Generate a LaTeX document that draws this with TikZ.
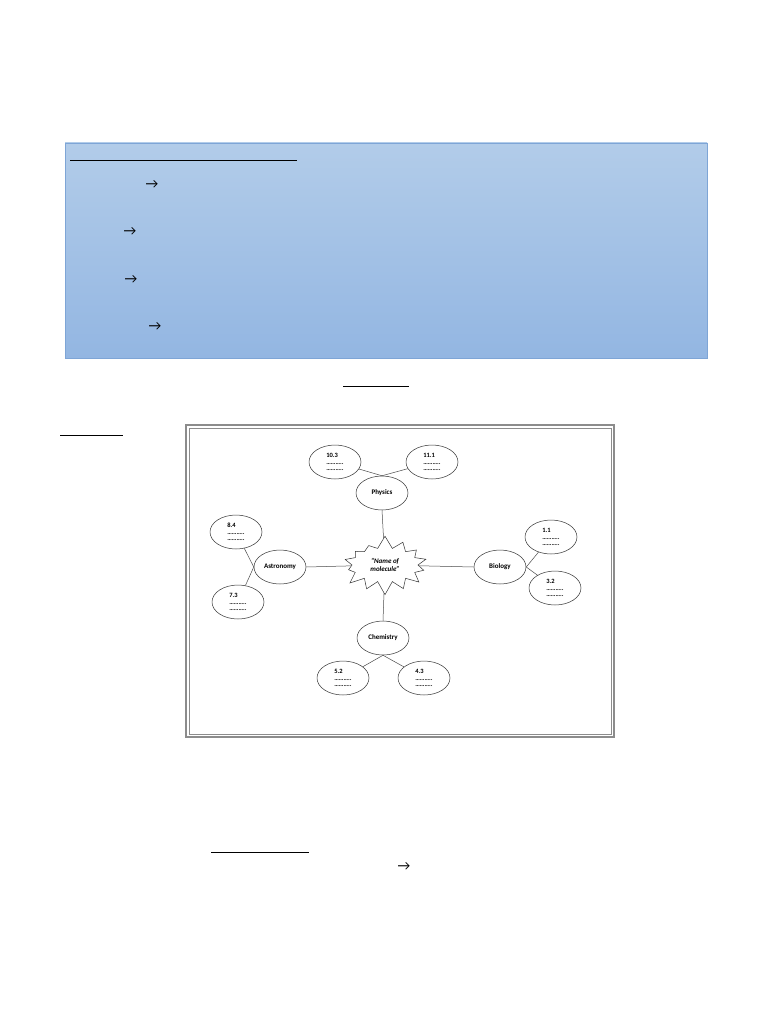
\documentclass[tikz,border=0pt]{standalone}
\usepackage{fontspec}
\setmainfont{Carlito}
\usetikzlibrary{shapes.symbols,shapes.geometric}
\definecolor{boxtop}{HTML}{B2CCE9}
\definecolor{boxbot}{HTML}{93B6E2}
\definecolor{boxedge}{HTML}{7EA5D6}
\begin{document}
\begin{tikzpicture}[x=1pt,y=-1pt,
  ell/.style={draw=black!80,ellipse,line width=0.5pt,minimum width=52pt,minimum height=34pt,inner sep=0pt,font=\fontsize{6.5}{7.5}\selectfont\bfseries,align=left},
  subj/.style={draw=black!80,ellipse,line width=0.5pt,minimum width=52pt,minimum height=34pt,inner sep=0pt,font=\fontsize{7}{8}\selectfont\bfseries},
  link/.style={draw=black!70,line width=0.5pt},
  ul/.style={draw=black,line width=1pt},
  arr/.style={font=\fontsize{14}{14}\selectfont}]
\useasboundingbox (0,0) rectangle (768,1024);
\fill[white] (0,0) rectangle (768,1024);
% blue box
\shade[top color=boxtop,bottom color=boxbot] (65,143) rectangle (707,358);
\draw[boxedge,line width=0.8pt] (65,143) rectangle (707,358);
\draw[ul] (70,161) -- (297,161);
\node[arr] (a1) at (152,184) {\textrightarrow};
\node[arr] (a2) at (130,231) {\textrightarrow};
\node[arr] (a3) at (131,279) {\textrightarrow};
\node[arr] (a4) at (155,326) {\textrightarrow};
\draw[ul] (343,386) -- (409,386);
\draw[ul] (60,435) -- (123,435);
\draw[ul] (211,852) -- (309,852);
\node[arr] (a5) at (404,866) {\textrightarrow};
% diagram frame
\draw[black!45,line width=1.2pt] (186,425) rectangle (614,737);
\draw[black!45,line width=0.8pt] (189,428) rectangle (611,734);
% nodes
\node[starburst,draw=black!80,line width=0.5pt,fill=white,minimum width=92pt,minimum height=60pt,starburst points=14,starburst point height=13pt,random starburst=7,inner sep=0pt,font=\fontsize{7}{8}\selectfont\bfseries\itshape,align=center] (c) at (385,565) {``Name of\\ molecule''};
\node[subj] (phy) at (382,493) {Physics};
\node[subj] (ast) at (280,567) {Astronomy};
\node[subj] (bio) at (500,567) {Biology};
\node[subj] (che) at (383,638) {Chemistry};
\node[ell] (p1) at (335,462) {10.3\\[-1pt]………..\\[-1pt]………..};
\node[ell] (p2) at (432,462) {11.1\\[-1pt]………..\\[-1pt]………..};
\node[ell] (s1) at (236,532) {8.4\\[-1pt]………..\\[-1pt]………..};
\node[ell] (s2) at (238,602) {7.3\\[-1pt]………..\\[-1pt]………..};
\node[ell] (b1) at (551,537) {1.1\\[-1pt]………..\\[-1pt]………..};
\node[ell] (b2) at (555,588) {3.2\\[-1pt]………..\\[-1pt]………..};
\node[ell] (h1) at (343,678) {5.2\\[-1pt]………..\\[-1pt]………..};
\node[ell] (h2) at (424,678) {4.3\\[-1pt]………..\\[-1pt]………..};
% links
\draw[link] (phy.south) -- (c);
\draw[link] (ast.east) -- (c);
\draw[link] (bio.west) -- (c);
\draw[link] (che.north) -- (c);
\draw[link] (p1) -- (phy.north);
\draw[link] (p2) -- (phy.north);
\draw[link] (s1) -- (ast.west);
\draw[link] (s2) -- (ast.west);
\draw[link] (b1) -- (bio.east);
\draw[link] (b2) -- (bio.east);
\draw[link] (h1) -- (che.south);
\draw[link] (h2) -- (che.south);
\end{tikzpicture}
\end{document}
